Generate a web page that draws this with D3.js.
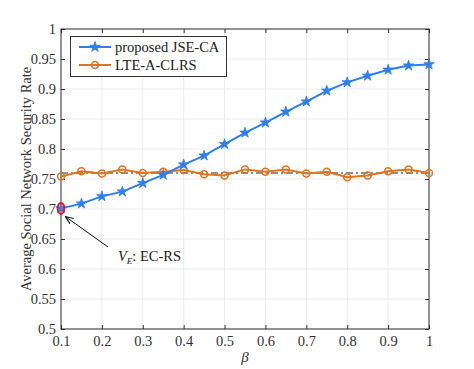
<!DOCTYPE html>
<html>
<head>
<meta charset="utf-8">
<script src="https://cdn.jsdelivr.net/npm/d3@7"></script>
<style>
  body { margin: 0; background: #fff; }
</style>
</head>
<body>
<svg id="chart" width="474" height="369"></svg>
<script>
const width = 474;
const height = 369;
const serif = '"Liberation Serif", "Times New Roman", "DejaVu Serif", serif';

// data
const beta = [0.1, 0.15, 0.2, 0.25, 0.3, 0.35, 0.4, 0.45, 0.5, 0.55, 0.6, 0.65, 0.7, 0.75, 0.8, 0.85, 0.9, 0.95, 1.0];
const jseCa = [0.701, 0.709, 0.721, 0.729, 0.743, 0.757, 0.774, 0.789, 0.808, 0.827, 0.844, 0.862, 0.879, 0.897, 0.911, 0.922, 0.932, 0.939, 0.941];
const lteClrs = [0.754, 0.763, 0.759, 0.766, 0.760, 0.762, 0.765, 0.758, 0.756, 0.766, 0.762, 0.766, 0.759, 0.762, 0.753, 0.756, 0.763, 0.766, 0.760];
const meanLine = 0.76;
const xTicks = [0.1, 0.2, 0.3, 0.4, 0.5, 0.6, 0.7, 0.8, 0.9, 1];
const yTicks = [0.5, 0.55, 0.6, 0.65, 0.7, 0.75, 0.8, 0.85, 0.9, 0.95, 1];
const seriesNames = ["proposed JSE-CA", "LTE-A-CLRS"];

const blue = "#2f7df0";
const orange = "#e0741e";

const margin = {left: 61, right: width - 429, top: 29, bottom: height - 329};

const svg = d3.select('#chart');
const x = d3.scaleLinear().domain([0.1, 1]).range([margin.left, width - margin.right]);
const y = d3.scaleLinear().domain([0.5, 1]).range([height - margin.bottom, margin.top]);

const fmt = d => d === 1 ? "1" : String(d);

// grid
svg.append('g').selectAll('line').data(xTicks).join('line')
    .attr('x1', d => x(d)).attr('x2', d => x(d))
    .attr('y1', y(0.5)).attr('y2', y(1))
    .attr('stroke', '#ebebeb').attr('stroke-width', 1);
svg.append('g').selectAll('line').data(yTicks).join('line')
    .attr('y1', d => y(d)).attr('y2', d => y(d))
    .attr('x1', x(0.1)).attr('x2', x(1))
    .attr('stroke', '#ebebeb').attr('stroke-width', 1);

// axes (box with ticks on all sides)
const axisStyle = g => {
    g.attr('font-family', serif).attr('font-size', 14.5);
    g.select('.domain').remove();
    g.selectAll('.tick line').attr('stroke', '#333');
    g.selectAll('.tick text').attr('fill', '#333');
};
svg.append('g').attr('transform', `translate(0,${y(0.5)})`)
    .call(d3.axisBottom(x).tickValues(xTicks).tickSize(-4).tickPadding(7).tickFormat(fmt)).call(axisStyle);
svg.append('g').attr('transform', `translate(0,${y(1)})`)
    .call(d3.axisTop(x).tickValues(xTicks).tickSize(-4).tickFormat('')).call(axisStyle);
svg.append('g').attr('transform', `translate(${x(0.1)},0)`)
    .call(d3.axisLeft(y).tickValues(yTicks).tickSize(-4).tickPadding(5).tickFormat(fmt)).call(axisStyle);
svg.append('g').attr('transform', `translate(${x(1)},0)`)
    .call(d3.axisRight(y).tickValues(yTicks).tickSize(-4).tickFormat('')).call(axisStyle);
svg.append('rect')
    .attr('x', x(0.1)).attr('y', y(1))
    .attr('width', x(1) - x(0.1)).attr('height', y(0.5) - y(1))
    .attr('fill', 'none').attr('stroke', '#333').attr('stroke-width', 1);

// dash-dot reference line
svg.append('line')
    .attr('x1', x(0.1)).attr('x2', x(1))
    .attr('y1', y(meanLine)).attr('y2', y(meanLine))
    .attr('stroke', '#222').attr('stroke-width', 1)
    .attr('stroke-dasharray', '7,3,2,3');

const line = d3.line().x((d, i) => x(beta[i])).y(d => y(d));
const star = d3.symbol().type(d3.symbolStar).size(34);

// orange series
svg.append('path').datum(lteClrs)
    .attr('d', line).attr('fill', 'none')
    .attr('stroke', orange).attr('stroke-width', 2);
svg.append('g').selectAll('circle').data(lteClrs).join('circle')
    .attr('cx', (d, i) => x(beta[i])).attr('cy', d => y(d)).attr('r', 3.5)
    .attr('fill', 'none').attr('stroke', orange).attr('stroke-width', 1.5);

// blue series
svg.append('path').datum(jseCa)
    .attr('d', line).attr('fill', 'none')
    .attr('stroke', blue).attr('stroke-width', 2);
svg.append('g').selectAll('path').data(jseCa).join('path')
    .attr('transform', (d, i) => `translate(${x(beta[i])},${y(d)})`)
    .attr('d', star).attr('fill', blue).attr('stroke', blue).attr('stroke-width', 0.8);

// annotation: red ellipse + arrow + label
svg.append('ellipse')
    .attr('cx', x(beta[0])).attr('cy', y(jseCa[0]))
    .attr('rx', 3.3).attr('ry', 5.5)
    .attr('fill', 'none').attr('stroke', '#e8141e').attr('stroke-width', 2);
const defs = svg.append('defs');
defs.append('marker').attr('id', 'arrow')
    .attr('viewBox', '0 0 10 10').attr('refX', 9).attr('refY', 5)
    .attr('markerWidth', 8).attr('markerHeight', 8).attr('orient', 'auto')
    .append('path').attr('d', 'M0,1 L10,5 L0,9').attr('fill', 'none').attr('stroke', '#111').attr('stroke-width', 1.4);
svg.append('line')
    .attr('x1', 108).attr('y1', 247).attr('x2', 66).attr('y2', 217)
    .attr('stroke', '#111').attr('stroke-width', 1).attr('marker-end', 'url(#arrow)');
const ann = svg.append('text').attr('x', 118).attr('y', 261)
    .attr('font-family', serif).attr('font-size', 14.5).attr('fill', '#222');
ann.append('tspan').attr('font-style', 'italic').text('V');
ann.append('tspan').attr('font-style', 'italic').attr('font-size', 9).attr('dy', 3).text('E');
ann.append('tspan').attr('dy', -3).text(': EC-RS');

// legend
const lg = svg.append('g');
lg.append('rect').attr('x', 70.5).attr('y', 36.5).attr('width', 156).attr('height', 40)
    .attr('fill', '#fff').attr('stroke', '#333').attr('stroke-width', 1);
const lgRows = [
    {name: seriesNames[0], color: blue, type: 'star', yy: 47},
    {name: seriesNames[1], color: orange, type: 'circle', yy: 65}
];
lgRows.forEach(r => {
    lg.append('line').attr('x1', 79).attr('x2', 111).attr('y1', r.yy).attr('y2', r.yy)
        .attr('stroke', r.color).attr('stroke-width', 2);
    if (r.type === 'star') {
        lg.append('path').attr('transform', `translate(95,${r.yy})`).attr('d', star)
            .attr('fill', r.color).attr('stroke', r.color).attr('stroke-width', 0.8);
    } else {
        lg.append('circle').attr('cx', 95).attr('cy', r.yy).attr('r', 3.5)
            .attr('fill', 'none').attr('stroke', r.color).attr('stroke-width', 1.5);
    }
    lg.append('text').attr('x', 115).attr('y', r.yy + 5)
        .attr('font-family', serif).attr('font-size', 14.5).attr('fill', '#222').text(r.name);
});

// axis labels
svg.append('text').attr('x', 245).attr('y', 362).attr('text-anchor', 'middle')
    .attr('font-family', serif).attr('font-size', 15).attr('font-style', 'italic').attr('fill', '#333').text('β');
svg.append('text').attr('transform', `translate(31,${(y(0.5) + y(1)) / 2}) rotate(-90)`)
    .attr('text-anchor', 'middle').attr('font-family', serif).attr('font-size', 14.5).attr('fill', '#333')
    .text('Average Social Network Security Rate');
</script>
</body>
</html>
